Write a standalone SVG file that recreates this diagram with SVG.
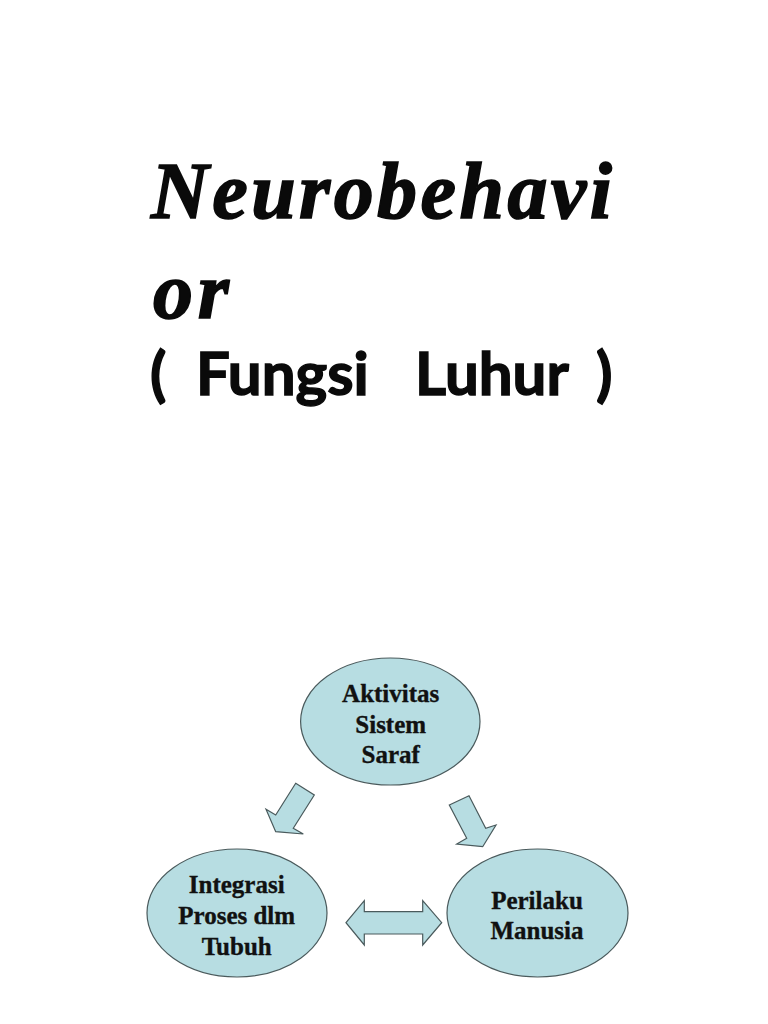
<svg xmlns="http://www.w3.org/2000/svg" width="768" height="1024" viewBox="0 0 768 1024">
<style>
.t{font-family:"Liberation Serif",serif;font-weight:bold;font-size:25px;fill:#111;stroke:#111;stroke-width:.35;text-anchor:middle}
.n{fill:#b7dde2;stroke:#4a5a5c;stroke-width:1.2}
.h{font-family:"Liberation Serif",serif;font-style:italic;font-weight:bold;fill:#0a0a0a;stroke:#0a0a0a;stroke-width:1.6;font-size:80px}
.s{font-family:"Lato",sans-serif;font-weight:bold;fill:#0a0a0a;stroke:#0a0a0a;stroke-width:1.4;font-size:60px}
</style>
<rect width="768" height="1024" fill="#fff"/>
<g id="title">
<text class="h" x="151" y="218" textLength="461">Neurobehavi</text>
<text class="h" x="153" y="318" textLength="76">or</text>
<text class="s" y="395"><tspan x="150">(</tspan> <tspan x="196">Fungsi</tspan> <tspan x="415">Luhur</tspan> <tspan x="596">)</tspan></text>
</g>
<g id="connectors">
<polygon class="n" points="295.7,783.3 314.3,795 293.3,828.3 303.3,834 275.7,831.7 266,809.3 275.7,815"/>
<polygon class="n" points="449.3,805 469,795.7 485.7,828.3 496,825 482.7,846.7 456.7,844 466.7,838.3"/>
<polygon class="n" points="346,922.7 364.3,900.7 364.3,911.7 422.7,911.7 422.7,900.7 441.7,922.7 422.7,945 422.7,934 364.3,934 364.3,945"/>
</g>
<g id="node-aktivitas">
<ellipse class="n" cx="390.3" cy="721.5" rx="89.7" ry="63.5"/>
<text class="t" x="390.7" y="701.5">Aktivitas</text>
<text class="t" x="390.7" y="732.5">Sistem</text>
<text class="t" x="390.7" y="762.5">Saraf</text>
</g>
<g id="node-integrasi">
<ellipse class="n" cx="237" cy="913" rx="90" ry="64"/>
<text class="t" x="236.7" y="892.5">Integrasi</text>
<text class="t" x="236.7" y="923.5">Proses dlm</text>
<text class="t" x="236.7" y="954.5">Tubuh</text>
</g>
<g id="node-perilaku">
<ellipse class="n" cx="537.5" cy="913" rx="90.5" ry="64"/>
<text class="t" x="537" y="908.5">Perilaku</text>
<text class="t" x="537" y="938.5">Manusia</text>
</g>
</svg>
